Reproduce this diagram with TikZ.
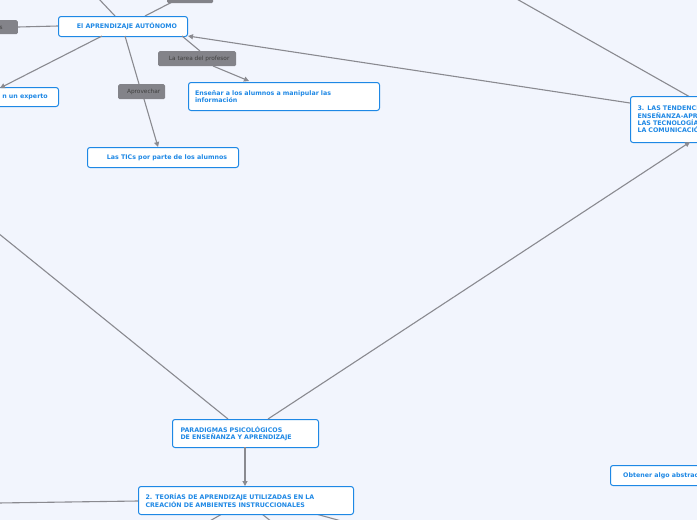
\documentclass[tikz,border=0pt]{standalone}
\usepackage{fontspec}
\setmainfont{DejaVu Sans}
\usetikzlibrary{arrows.meta}
\definecolor{bg}{HTML}{F2F5FD}
\definecolor{bl}{HTML}{1E88E5}
\definecolor{ln}{HTML}{8A8A90}
\tikzset{
 box/.style={draw=bl,fill=white,rounded corners=2.5pt,line width=1pt,text=bl,font=\fontsize{6.3}{7.4}\selectfont\bfseries,align=left,inner sep=0pt,anchor=north west},
 lab/.style={fill=ln!95!black,rounded corners=1.5pt,text=black!75,font=\fontsize{5.8}{6.5}\selectfont,inner sep=0pt,anchor=north west},
 con/.style={draw=ln,line width=1.1pt},
 arr/.style={con,-{Triangle[length=5pt,width=5pt]}}
}
\begin{document}
\begin{tikzpicture}[x=1pt,y=-1pt]
\clip (0,0) rectangle (697,520);
\fill[bg] (0,0) rectangle (697,520);
% lines
\draw[con] (115,16) -- (98,-2);
\draw[con] (145,16) -- (180,-2);
\draw[con] (690,97) -- (515,-2);
\draw[con] (18,27) -- (58,26);
\draw[con] (228,419) -- (-2,233);
\draw[con] (138,501) -- (-2,503);
\draw[con] (222,514) -- (208,522);
\draw[con] (262,514) -- (272,522);
\draw[con] (316,514) -- (345,522);
% boxes
\node[box,minimum width=129pt,minimum height=20pt] (auto) at (58,16) {\hspace*{8pt}El APRENDIZAJE AUTÓNOMO};
\node[box,minimum width=68pt,minimum height=19pt] (exp) at (-10,87) {\hspace*{1pt}n un experto};
\node[box,text width=178pt,minimum height=28pt,inner xsep=6.5pt] (ens) at (188,82) {Enseñar a los alumnos a manipular las\\información};
\node[box,minimum width=151pt,minimum height=20pt] (tics) at (87,147) {\hspace*{8pt}Las TICs por parte de los alumnos};
\node[box,text width=130pt,minimum height=46pt,inner xsep=7pt] (tres) at (630,96) {3. LAS TENDENCIAS DE\\ENSEÑANZA-APRENDIZAJE Y\\LAS TECNOLOGÍAS DE\\LA COMUNICACIÓN};
\node[box,text width=130pt,minimum height=28pt,inner xsep=8pt] (par) at (172,419) {PARADIGMAS PSICOLÓGICOS\\DE ENSEÑANZA Y APRENDIZAJE};
\node[box,text width=201pt,minimum height=28pt,inner xsep=7pt] (teo) at (138,486) {2. TEORÍAS DE APRENDIZAJE UTILIZADAS EN LA\\CREACIÓN DE AMBIENTES INSTRUCCIONALES};
\node[box,minimum width=100pt,minimum height=20pt] (obt) at (610,465) {\hspace*{8pt}Obtener algo abstracto};
% labels
\node[lab,minimum width=78pt,minimum height=15pt] (tarea) at (158,51) {\hspace*{4pt}La tarea del profesor};
\node[lab,minimum width=47pt,minimum height=15pt] (apro) at (118,84) {\hspace*{4pt}Aprovechar};
\node[lab,minimum width=40pt,minimum height=14pt,anchor=north east] (ntes) at (18,20) {ntes\hspace*{3pt}};
\node[lab,minimum width=46pt,minimum height=6pt] (top) at (167,-3) {};
% connectors
\draw[arr] (102,36) -- (0,88);
\draw[con] (182,36) -- (200,51);
\draw[arr] (213,66) -- (249,81);
\draw[con] (125,36) -- (139,84);
\draw[arr] (144,99) -- (158,147);
\draw[arr] (tres.west |- 0,103) -- (188,36);
\draw[arr] (268,419) -- (690,142);
\draw[arr] (245,447) -- (245,486);
\end{tikzpicture}
\end{document}
